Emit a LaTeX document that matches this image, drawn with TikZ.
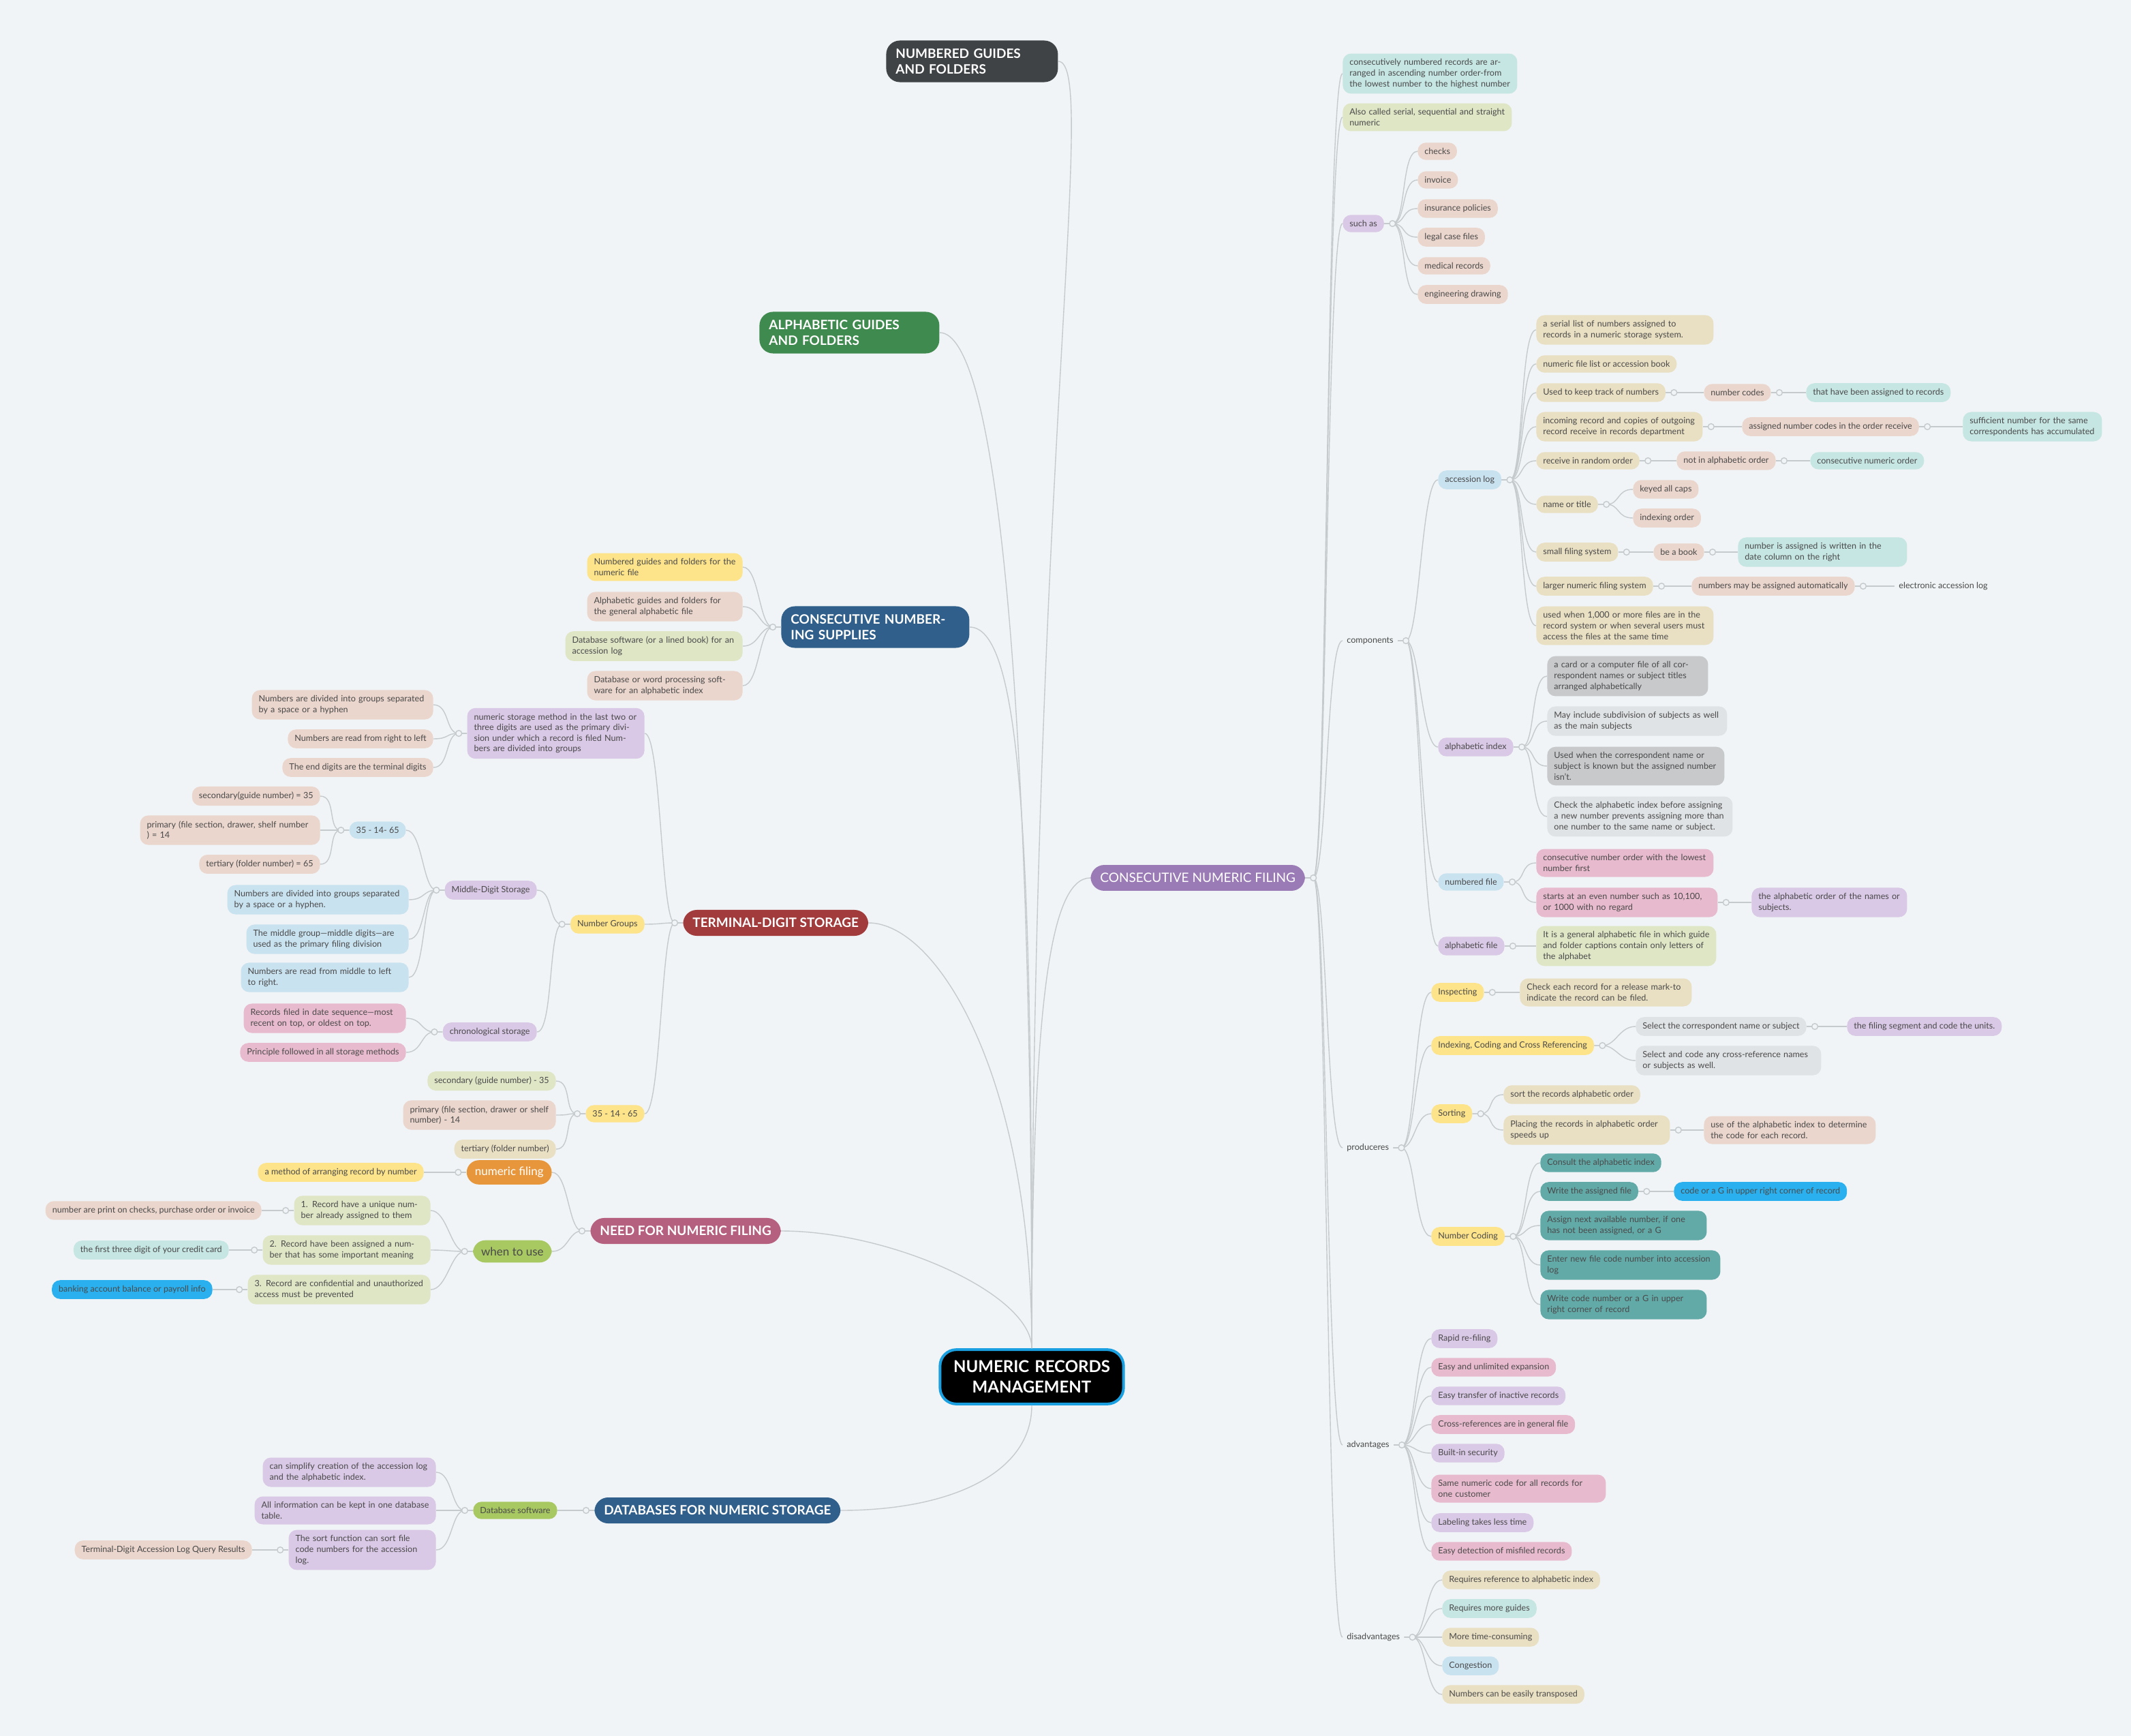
\documentclass[tikz,border=0pt]{standalone}
\usepackage{fontspec}
\setmainfont{Lato}
\definecolor{bg}{HTML}{F0F4F6}
\definecolor{txt}{HTML}{4A4A4A}
\definecolor{edgec}{HTML}{C5CACD}
\definecolor{cTeal}{HTML}{C6E6E3}
\definecolor{cGreen}{HTML}{DFE6C6}
\definecolor{cPurple}{HTML}{D9C8E6}
\definecolor{cPeach}{HTML}{EBD6CD}
\definecolor{cBeige}{HTML}{E9DFC2}
\definecolor{cBlue}{HTML}{C9E2F0}
\definecolor{cGray}{HTML}{C7C9CB}
\definecolor{cGrayL}{HTML}{E0E3E5}
\definecolor{cYel}{HTML}{FDE38A}
\definecolor{cPink}{HTML}{E8BACD}
\definecolor{cTealD}{HTML}{62AAA8}
\definecolor{cCyan}{HTML}{2AB0EE}
\definecolor{cOrange}{HTML}{E8963C}
\definecolor{cLime}{HTML}{A8C862}
\definecolor{mGray}{HTML}{3F4346}
\definecolor{mGreen}{HTML}{3F8A4E}
\definecolor{mBlue}{HTML}{2F5F8A}
\definecolor{mRed}{HTML}{A23B3B}
\definecolor{mPink}{HTML}{B5607E}
\definecolor{mPurple}{HTML}{9A7BB5}
\definecolor{cBorder}{HTML}{1AA0E0}
\tikzset{
 b/.style={rounded corners=6pt,inner xsep=5pt,inner ysep=4pt,font=\fontsize{6.3}{7.8}\selectfont,text=txt,align=left},
 pl/.style={inner xsep=3pt,inner ysep=3pt,font=\fontsize{6.3}{7.8}\selectfont,text=txt,align=left},
 mb/.style={rounded corners=10pt,inner xsep=7pt,inner ysep=6pt,font=\fontsize{9.5}{11.5}\selectfont\bfseries,text=white,align=left},
 sb/.style={rounded corners=9pt,inner xsep=6pt,inner ysep=5pt,font=\fontsize{8.5}{10}\selectfont,align=left},
 edge/.style={draw=edgec,line width=0.7pt},
}
\newcommand\ER[2]{\draw[edge] (#1.east) -- ++(6,0) .. controls +(10,0) and +(-12,0) .. (#2.west);}
\newcommand\EL[2]{\draw[edge] (#1.west) -- ++(-6,0) .. controls +(-10,0) and +(12,0) .. (#2.east);}
\newcommand\JR[1]{\filldraw[edge,fill=bg] ([xshift=6pt]#1.east) circle (2.2);}
\newcommand\JL[1]{\filldraw[edge,fill=bg] ([xshift=-6pt]#1.west) circle (2.2);}
\begin{document}
\begin{tikzpicture}[x=1pt,y=-1pt]
\fill[bg] (0,0) rectangle (1563.5,1273.5);
\useasboundingbox (0,0) rectangle (1563.5,1273.5);

% center and main branches
\node[rounded corners=12pt,fill=black,draw=cBorder,line width=2pt,text=white,font=\fontsize{12}{15}\selectfont\bfseries,align=center,text width=128pt,inner ysep=8pt] (c) at (757,1010) {NUMERIC RECORDS MANAGEMENT};
\node[mb,fill=mGray,anchor=west,text width=112pt] (ng) at (650,45) {NUMBERED GUIDES AND FOLDERS};
\node[mb,fill=mGreen,anchor=west,text width=118pt] (ag) at (557,244) {ALPHABETIC GUIDES AND FOLDERS};
\node[mb,fill=mBlue,anchor=west,text width=124pt] (cns) at (573,460) {CONSECUTIVE NUMBERING SUPPLIES};
\node[mb,fill=mRed,anchor=west] (td) at (501,677) {TERMINAL-DIGIT STORAGE};
\node[mb,fill=mPink,anchor=west] (nfn) at (433,903) {NEED FOR NUMERIC FILING};
\node[mb,fill=mBlue,anchor=west] (dbn) at (436,1108) {DATABASES FOR NUMERIC STORAGE};
\node[mb,fill=mPurple,anchor=west,font=\fontsize{9.5}{11.5}\selectfont] (cnf) at (800,644) {CONSECUTIVE NUMERIC FILING};

\draw[edge] (c.north) .. controls +(0,-650) and +(30,0) .. (ng.east);
\draw[edge] (c.north) .. controls +(0,-500) and +(40,0) .. (ag.east);
\draw[edge] (c.north) .. controls +(0,-350) and +(40,0) .. (cns.east);
\draw[edge] (c.north) .. controls +(0,-200) and +(50,0) .. (td.east);
\draw[edge] (c.north) .. controls +(0,-40) and +(80,0) .. (nfn.east);
\draw[edge] (c.south) .. controls +(0,50) and +(80,0) .. (dbn.east);
\draw[edge] (c.north) .. controls +(0,-250) and +(-30,0) .. (cnf.west);

% ===== right side =====
\node[b,fill=cTeal,anchor=west,text width=118pt] (r1) at (985,54) {consecutively numbered records are arranged in ascending number order-from the lowest number to the highest number};
\node[b,fill=cGreen,anchor=west,text width=114pt] (r2) at (985,86) {Also called serial, sequential and straight numeric};
\node[b,fill=cPurple,anchor=west] (suchas) at (985,164) {such as};
\node[b,fill=cPeach,anchor=west] (s1) at (1040,111) {checks};
\node[b,fill=cPeach,anchor=west] (s2) at (1040,132) {invoice};
\node[b,fill=cPeach,anchor=west] (s3) at (1040,153) {insurance policies};
\node[b,fill=cPeach,anchor=west] (s4) at (1040,174) {legal case files};
\node[b,fill=cPeach,anchor=west] (s5) at (1040,195) {medical records};
\node[b,fill=cPeach,anchor=west] (s6) at (1040,216) {engineering drawing};
\node[pl,anchor=west] (comp) at (985,470) {components};
\node[b,fill=cBlue,anchor=west] (al) at (1055,352) {accession log};
\node[b,fill=cPurple,anchor=west] (ai) at (1055,548) {alphabetic index};
\node[b,fill=cBlue,anchor=west] (nfile) at (1055,647) {numbered file};
\node[b,fill=cPurple,anchor=west] (afile) at (1055,694) {alphabetic file};
\node[b,fill=cBeige,anchor=west,text width=120pt] (a1) at (1127,242) {a serial list of numbers assigned to records in a numeric storage system.};
\node[b,fill=cBeige,anchor=west] (a2) at (1127,267) {numeric file list or accession book};
\node[b,fill=cBeige,anchor=west] (a3) at (1127,288) {Used to keep track of numbers};
\node[b,fill=cPeach,anchor=west] (a3a) at (1250,288) {number codes};
\node[b,fill=cTeal,anchor=west] (a3b) at (1325,288) {that have been assigned to records};
\node[b,fill=cBeige,anchor=west,text width=112pt] (a4) at (1127,313) {incoming record  and copies of outgoing record receive in records department};
\node[b,fill=cPeach,anchor=west] (a4a) at (1278,313) {assigned number codes in the order receive};
\node[b,fill=cTeal,anchor=west,text width=92pt] (a4b) at (1440,313) {sufficient number for the same correspondents has accumulated};
\node[b,fill=cBeige,anchor=west] (a5) at (1127,338) {receive in random order};
\node[b,fill=cPeach,anchor=west] (a5a) at (1230,338) {not in alphabetic order};
\node[b,fill=cTeal,anchor=west] (a5b) at (1328,338) {consecutive numeric order};
\node[b,fill=cBeige,anchor=west] (a6) at (1127,370) {name or title};
\node[b,fill=cPeach,anchor=west] (a6a) at (1198,359) {keyed all caps};
\node[b,fill=cPeach,anchor=west] (a6b) at (1198,380) {indexing order};
\node[b,fill=cBeige,anchor=west] (a7) at (1127,405) {small filing system};
\node[b,fill=cPeach,anchor=west] (a7a) at (1213,405) {be a book};
\node[b,fill=cTeal,anchor=west,text width=114pt] (a7b) at (1275,405) {number is assigned is written in the date column on the right};
\node[b,fill=cBeige,anchor=west] (a8) at (1127,430) {larger numeric filing system};
\node[b,fill=cPeach,anchor=west] (a8a) at (1241,430) {numbers may be assigned automatically};
\node[pl,anchor=west] (a8b) at (1390,430) {electronic accession log};
\node[b,fill=cBeige,anchor=west,text width=120pt] (a9) at (1127,459) {used when 1,000 or more files are in the record system or when several users must access the files at the same time};
\node[b,fill=cGray,anchor=west,text width=108pt] (i1) at (1135,496) {a card or a computer file of all correspondent names or subject titles arranged alphabetically};
\node[b,fill=cGrayL,anchor=west,text width=122pt] (i2) at (1135,529) {May include subdivision of subjects as well as the main subjects};
\node[b,fill=cGray,anchor=west,text width=120pt] (i3) at (1135,562) {Used when the correspondent name or subject is known but the assigned number isn't.};
\node[b,fill=cGrayL,anchor=west,text width=126pt] (i4) at (1135,599) {Check the alphabetic index before assigning a new number prevents assigning more than one number to the same name or subject.};
\node[b,fill=cPink,anchor=west,text width=120pt] (n1) at (1127,633) {consecutive number order with the lowest number first};
\node[b,fill=cPink,anchor=west,text width=123pt] (n2) at (1127,662) {starts at an even number such as 10,100, or 1000 with no regard};
\node[b,fill=cPurple,anchor=west,text width=104pt] (n2a) at (1285,662) {the alphabetic order of the names or subjects.};
\node[b,fill=cGreen,anchor=west,text width=122pt] (f1) at (1127,694) {It is a general alphabetic file in which guide and folder captions contain only letters of the alphabet};
\node[pl,anchor=west] (prod) at (985,842) {produceres};
\node[b,fill=cYel,anchor=west] (p1) at (1050,728) {Inspecting};
\node[b,fill=cBeige,anchor=west,text width=116pt] (p1a) at (1115,728) {Check each record for a release mark-to indicate the record can be filed.};
\node[b,fill=cYel,anchor=west] (p2) at (1050,767) {Indexing, Coding and Cross Referencing};
\node[b,fill=cGrayL,anchor=west] (p2a) at (1200,753) {Select the correspondent name or subject};
\node[b,fill=cPurple,anchor=west] (p2b) at (1355,753) {the filing segment and code the units.};
\node[b,fill=cGrayL,anchor=west,text width=126pt] (p2c) at (1200,778) {Select and code any cross-reference names or subjects as well.};
\node[b,fill=cYel,anchor=west] (p3) at (1050,817) {Sorting};
\node[b,fill=cBeige,anchor=west] (p3a) at (1103,803) {sort the records alphabetic order};
\node[b,fill=cBeige,anchor=west,text width=112pt] (p3b) at (1103,829) {Placing the records in alphabetic order speeds up};
\node[b,fill=cPeach,anchor=west,text width=116pt] (p3c) at (1250,829) {use of the alphabetic index to determine the code for each record.};
\node[b,fill=cYel,anchor=west] (p4) at (1050,907) {Number Coding};
\node[b,fill=cTealD,anchor=west] (c1) at (1130,853) {Consult the alphabetic index};
\node[b,fill=cTealD,anchor=west] (c2) at (1130,874) {Write the assigned file};
\node[b,fill=cCyan,anchor=west] (c2a) at (1228,874) {code or a G in upper right corner of record};
\node[b,fill=cTealD,anchor=west,text width=112pt] (c3) at (1130,899) {Assign next available number, if one has not been assigned, or a G};
\node[b,fill=cTealD,anchor=west,text width=122pt] (c4) at (1130,928) {Enter new file code number into accession log};
\node[b,fill=cTealD,anchor=west,text width=112pt] (c5) at (1130,957) {Write code number or a G in upper right corner of record};
\node[pl,anchor=west] (adv) at (985,1060) {advantages};
\node[b,fill=cPurple,anchor=west] (ad1) at (1050,982) {Rapid re-filing};
\node[b,fill=cPink,anchor=west] (ad2) at (1050,1003) {Easy and unlimited expansion};
\node[b,fill=cPurple,anchor=west] (ad3) at (1050,1024) {Easy transfer of inactive records};
\node[b,fill=cPink,anchor=west] (ad4) at (1050,1045) {Cross-references are in general file};
\node[b,fill=cPurple,anchor=west] (ad5) at (1050,1066) {Built-in security};
\node[b,fill=cPink,anchor=west,text width=118pt] (ad6) at (1050,1092) {Same numeric code for all records for one customer};
\node[b,fill=cPurple,anchor=west] (ad7) at (1050,1117) {Labeling takes less time};
\node[b,fill=cPink,anchor=west] (ad8) at (1050,1138) {Easy detection of misfiled records};
\node[pl,anchor=west] (dis) at (985,1201) {disadvantages};
\node[b,fill=cBeige,anchor=west] (d1) at (1058,1159) {Requires reference to alphabetic index};
\node[b,fill=cTeal,anchor=west] (d2) at (1058,1180) {Requires more guides};
\node[b,fill=cBeige,anchor=west] (d3) at (1058,1201) {More time-consuming};
\node[b,fill=cBlue,anchor=west] (d4) at (1058,1222) {Congestion};
\node[b,fill=cBeige,anchor=west] (d5) at (1058,1243) {Numbers can be easily transposed};

\foreach \ch in {r1,r2,suchas,comp,prod,adv,dis}{\ER{cnf}{\ch}}
\foreach \ch in {s1,s2,s3,s4,s5,s6}{\ER{suchas}{\ch}}
\foreach \ch in {al,ai,nfile,afile}{\ER{comp}{\ch}}
\foreach \ch in {a1,a2,a3,a4,a5,a6,a7,a8,a9}{\ER{al}{\ch}}
\ER{a3}{a3a}\ER{a3a}{a3b}\ER{a4}{a4a}\ER{a4a}{a4b}\ER{a5}{a5a}\ER{a5a}{a5b}
\ER{a6}{a6a}\ER{a6}{a6b}\ER{a7}{a7a}\ER{a7a}{a7b}\ER{a8}{a8a}\ER{a8a}{a8b}
\foreach \ch in {i1,i2,i3,i4}{\ER{ai}{\ch}}
\ER{nfile}{n1}\ER{nfile}{n2}\ER{n2}{n2a}\ER{afile}{f1}
\foreach \ch in {p1,p2,p3,p4}{\ER{prod}{\ch}}
\ER{p1}{p1a}\ER{p2}{p2a}\ER{p2a}{p2b}\ER{p2}{p2c}\ER{p3}{p3a}\ER{p3}{p3b}\ER{p3b}{p3c}
\foreach \ch in {c1,c2,c3,c4,c5}{\ER{p4}{\ch}}
\ER{c2}{c2a}
\foreach \ch in {ad1,ad2,ad3,ad4,ad5,ad6,ad7,ad8}{\ER{adv}{\ch}}
\foreach \ch in {d1,d2,d3,d4,d5}{\ER{dis}{\ch}}
\foreach \p in {cnf,suchas,comp,al,a3,a3a,a4,a4a,a5,a5a,a6,a7,a7a,a8,a8a,ai,nfile,n2,afile,prod,p1,p2,p2a,p3,p3b,p4,c2,adv,dis}{\JR{\p}}

% ===== left side =====
\node[b,fill=cYel,anchor=east,text width=104pt] (l1) at (545,416) {Numbered guides and folders for the numeric file};
\node[b,fill=cPeach,anchor=east,text width=104pt] (l2) at (545,445) {Alphabetic guides and folders for the general alphabetic file};
\node[b,fill=cGreen,anchor=east,text width=120pt] (l3) at (545,474) {Database software (or a lined book) for an accession log};
\node[b,fill=cPeach,anchor=east,text width=104pt] (l4) at (545,503) {Database or word processing software for an alphabetic index};
\node[b,fill=cPurple,anchor=east,text width=120pt] (t1) at (473,538) {numeric storage method in the last two or three digits are used as the primary division under which a record is filed Numbers are divided into groups};
\node[b,fill=cPeach,anchor=east,text width=123pt] (t1a) at (318,517) {Numbers are divided into groups separated by a space or a hyphen};
\node[b,fill=cPeach,anchor=east] (t1b) at (318,542) {Numbers are read from right to left};
\node[b,fill=cPeach,anchor=east] (t1c) at (318,563) {The end digits are the terminal digits};
\node[b,fill=cYel,anchor=east] (t2) at (473,678) {Number Groups};
\node[b,fill=cPurple,anchor=east] (mds) at (394,653) {Middle-Digit Storage};
\node[b,fill=cBlue,anchor=east] (g) at (298,609) {35 - 14- 65};
\node[b,fill=cPeach,anchor=east] (g1) at (235,584) {secondary(guide number) = 35};
\node[b,fill=cPeach,anchor=east,text width=122pt] (g2) at (235,609) {primary (file section, drawer, shelf number ) = 14};
\node[b,fill=cPeach,anchor=east] (g3) at (235,634) {tertiary (folder number) = 65};
\node[b,fill=cBlue,anchor=east,text width=123pt] (m1) at (300,660) {Numbers are divided into groups separated by a space or a hyphen.};
\node[b,fill=cBlue,anchor=east,text width=109pt] (m2) at (300,689) {The middle group---middle digits---are used as the primary filing division};
\node[b,fill=cBlue,anchor=east,text width=113pt] (m3) at (300,717) {Numbers are read from middle to left to right.};
\node[b,fill=cPurple,anchor=east] (chr) at (394,757) {chronological storage};
\node[b,fill=cPink,anchor=east,text width=109pt] (ch1) at (298,747) {Records filed in date sequence---most recent on top, or oldest on top.};
\node[b,fill=cPink,anchor=east] (ch2) at (298,772) {Principle followed in all storage methods};
\node[b,fill=cYel,anchor=east] (t3) at (473,817) {35 - 14 - 65};
\node[b,fill=cGreen,anchor=east] (t3a) at (408,793) {secondary (guide number) - 35};
\node[b,fill=cPeach,anchor=east,text width=102pt] (t3b) at (408,818) {primary (file section, drawer or shelf number) - 14};
\node[b,fill=cBeige,anchor=east] (t3c) at (408,843) {tertiary (folder number)};
\node[sb,fill=cOrange,text=white,anchor=east] (nfa) at (405,860) {numeric filing};
\node[b,fill=cYel,anchor=east] (nfa1) at (311,860) {a method of arranging record by number};
\node[sb,fill=cLime,text=txt,anchor=east] (wtu) at (405,918) {when to use};
\node[b,fill=cGreen,anchor=east,text width=90pt] (w1) at (316,888) {1. Record have a unique number already assigned to them};
\node[b,fill=cPeach,anchor=east] (w1a) at (192,888) {number are print on checks, purchase order  or invoice};
\node[b,fill=cGreen,anchor=east,text width=113pt] (w2) at (316,917) {2. Record have been assigned a number that has some important meaning};
\node[b,fill=cTeal,anchor=east] (w2a) at (168,917) {the first three digit of your credit card};
\node[b,fill=cGreen,anchor=east,text width=124pt] (w3) at (316,946) {3. Record are confidential and unauthorized access must be prevented};
\node[b,fill=cCyan,anchor=east] (w3a) at (156,946) {banking account balance or payroll info};
\node[b,fill=cLime,anchor=east] (dbs) at (409,1108) {Database software};
\node[b,fill=cPurple,anchor=east,text width=117pt] (db1) at (320,1080) {can simplify creation of the accession log and the alphabetic index.};
\node[b,fill=cPurple,anchor=east,text width=123pt] (db2) at (320,1108) {All information can be kept in one database table.};
\node[b,fill=cPurple,anchor=east,text width=98pt] (db3) at (320,1137) {The sort function can sort file code numbers for the accession log.};
\node[b,fill=cPeach,anchor=east] (db3a) at (185,1137) {Terminal-Digit  Accession Log Query Results};

\foreach \ch in {l1,l2,l3,l4}{\EL{cns}{\ch}}
\foreach \ch in {t1,t2,t3}{\EL{td}{\ch}}
\foreach \ch in {t1a,t1b,t1c}{\EL{t1}{\ch}}
\EL{t2}{mds}\EL{t2}{chr}\EL{mds}{g}
\foreach \ch in {g1,g2,g3}{\EL{g}{\ch}}
\foreach \ch in {m1,m2,m3}{\EL{mds}{\ch}}
\EL{chr}{ch1}\EL{chr}{ch2}
\foreach \ch in {t3a,t3b,t3c}{\EL{t3}{\ch}}
\EL{nfn}{nfa}\EL{nfn}{wtu}\EL{nfa}{nfa1}
\EL{wtu}{w1}\EL{wtu}{w2}\EL{wtu}{w3}\EL{w1}{w1a}\EL{w2}{w2a}\EL{w3}{w3a}
\EL{dbn}{dbs}
\foreach \ch in {db1,db2,db3}{\EL{dbs}{\ch}}
\EL{db3}{db3a}
\foreach \p in {cns,td,t1,t2,mds,g,chr,t3,nfn,nfa,wtu,w1,w2,w3,dbn,dbs,db3}{\JL{\p}}
\end{tikzpicture}
\end{document}
